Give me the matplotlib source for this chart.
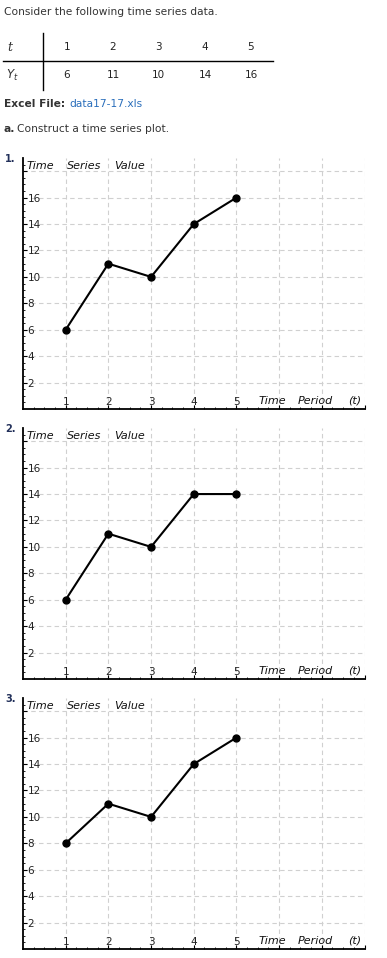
import matplotlib
matplotlib.use("Agg")
import matplotlib.pyplot as plt
from matplotlib.lines import Line2D

# ---- data ----
t_values = [1, 2, 3, 4, 5]
y_values = [6, 11, 10, 14, 16]
option_series = [
    [6, 11, 10, 14, 16],
    [6, 11, 10, 14, 14],
    [8, 11, 10, 14, 16],
]
option_labels = ["1.", "2.", "3."]
y_ticks = [2, 4, 6, 8, 10, 12, 14, 16, 18]
y_ticklabels = ["2", "4", "6", "8", "10", "12", "14", "16", ""]
x_ticks = [1, 2, 3, 4, 5, 6, 7, 8]
x_ticklabels = ["1", "2", "3", "4", "5", "", "", ""]

W, H = 387, 958
fig = plt.figure(figsize=(W / 100, H / 100), dpi=100)
fig.patch.set_facecolor("white")

# overlay axes in pixel coordinates for the page text
ov = fig.add_axes([0, 0, 1, 1])
ov.set_xlim(0, W)
ov.set_ylim(H, 0)
ov.axis("off")

txt = "#333333"
ov.text(4, 12, "Consider the following time series data.", fontsize=7.7, color=txt,
        ha="left", va="center")
# table
ov.text(10, 47, "t", fontsize=9, color=txt, ha="center", va="center",
        family="DejaVu Serif", style="italic")
ov.text(12, 75, "$Y_t$", fontsize=8.5, color=txt, ha="center", va="center")
ov.add_line(Line2D([43, 43], [33, 90], color="black", lw=1))
ov.add_line(Line2D([3, 273], [61, 61], color="black", lw=1))
col_x = [67, 113, 158, 205, 251]
for cx, tv, yv in zip(col_x, t_values, y_values):
    ov.text(cx, 47, str(tv), fontsize=7.5, color="#222222", ha="center", va="center")
    ov.text(cx, 75, str(yv), fontsize=7.5, color="#222222", ha="center", va="center")

ov.text(4, 104, "Excel File:", fontsize=7.7, color=txt, weight="bold",
        ha="left", va="center")
ov.text(69, 104, "data17-17.xls", fontsize=7.7, color="#2a6ebb", ha="left", va="center")
ov.text(4, 129, "a.", fontsize=7.7, color=txt, weight="bold", ha="left", va="center")
ov.text(17, 129, "Construct a time series plot.", fontsize=7.7, color=txt,
        ha="left", va="center")

# chart geometry (pixels)
left_px, right_px = 23, 364.5
tops = [158, 428, 698]
bottoms = [409, 679, 949]


def px2ax(x):
    return (x - left_px) / (right_px - left_px)


for i, (series, lab) in enumerate(zip(option_series, option_labels)):
    top, bot = tops[i], bottoms[i]
    ax = fig.add_axes([left_px / W, (H - bot) / H, (right_px - left_px) / W,
                       (bot - top) / H])
    ax.set_xlim(0, 8)
    ax.set_ylim(0, 19)
    ax.set_facecolor("white")
    for s in ["top", "right"]:
        ax.spines[s].set_visible(False)
    for s in ["left", "bottom"]:
        ax.spines[s].set_linewidth(1.3)
        ax.spines[s].set_color("black")
    ax.set_xticks(x_ticks)
    ax.set_xticklabels(x_ticklabels)
    ax.set_yticks(y_ticks)
    ax.set_yticklabels(y_ticklabels)
    ax.set_xticks([k * 0.25 for k in range(1, 32)], minor=True)
    ax.set_yticks([k * 0.5 for k in range(1, 38)], minor=True)
    ax.tick_params(axis="x", which="major", direction="in", length=3, width=0.8,
                   pad=-8.8, labelsize=7.5, labelcolor="#222222")
    ax.tick_params(axis="y", which="major", direction="in", length=3, width=0.8,
                   pad=-3.3, labelsize=7.5, labelcolor="#222222")
    ax.tick_params(which="minor", direction="in", length=1.5, width=0.6)
    for tl in ax.get_yticklabels():
        tl.set_ha("left")
    ax.grid(True, which="major", color="#d0d0d0", linestyle=(0, (4, 3)), lw=0.8)
    ax.set_axisbelow(True)

    ax.plot(t_values, series, color="black", lw=1.5, marker="o", markersize=5,
            zorder=3)

    # axis captions
    yt = 1 - (166 + 270 * i - top) / (bot - top)
    for word, x in zip(["Time", "Series", "Value"], [27, 67, 114]):
        ax.text(px2ax(x), yt, word, transform=ax.transAxes, fontsize=8,
                style="italic", ha="left", va="center", color="#111111")
    yb = (bot - (400.5 + 270 * i)) / (bot - top)
    for word, x in zip(["Time", "Period", "(t)"], [259, 298, 348]):
        ax.text(px2ax(x), yb, word, transform=ax.transAxes, fontsize=8,
                style="italic", ha="left", va="center", color="#111111")

    ov.text(5, top + 0.5, lab, fontsize=7, color="#22305a", weight="bold",
            ha="left", va="center")

fig.savefig("out.png", dpi=100, facecolor="white")
